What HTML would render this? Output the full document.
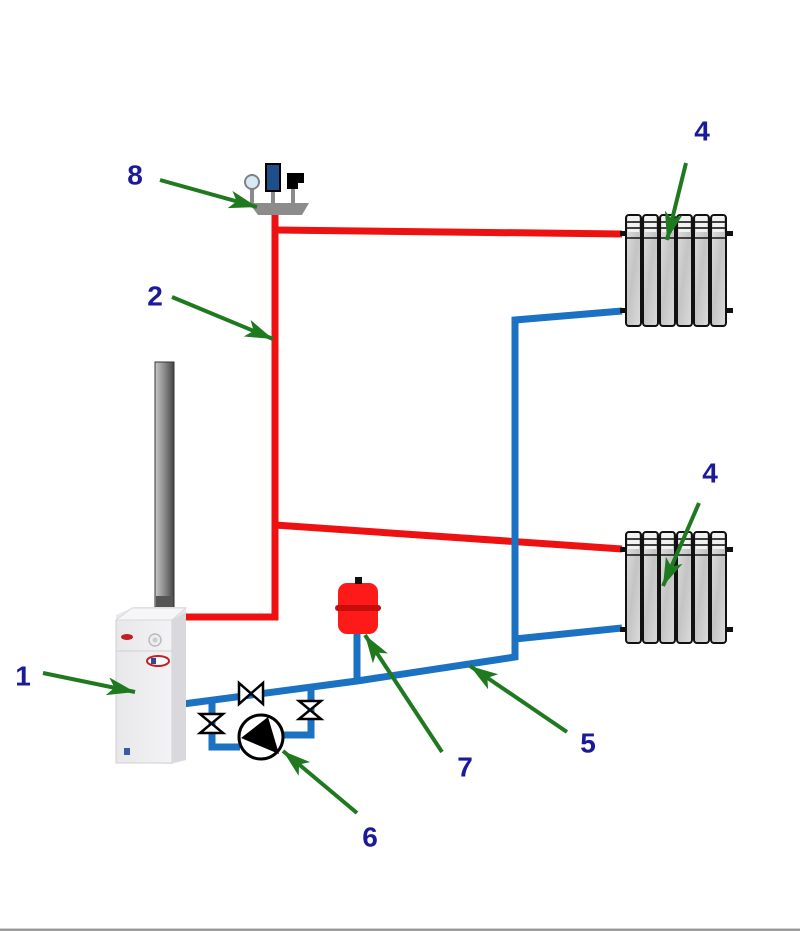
<!DOCTYPE html>
<html><head><meta charset="utf-8"><style>
html,body{margin:0;padding:0;background:#fff;}
svg{display:block;}
text{font-family:"Liberation Sans",Arial,sans-serif;font-weight:bold;font-size:28px;fill:#1a1a9a;}
</style></head><body>
<svg width="800" height="931" viewBox="0 0 800 931" xmlns="http://www.w3.org/2000/svg">
<defs>
<marker id="ah" markerUnits="userSpaceOnUse" markerWidth="30" markerHeight="20" refX="28" refY="10" orient="auto">
<path d="M0,1 L28,10 L0,19 L7,10 Z" fill="#1f7a1f"/>
</marker>
<linearGradient id="chim" x1="0" x2="1" y1="0" y2="0">
<stop offset="0" stop-color="#c8c8c8"/><stop offset="0.5" stop-color="#8a8a8a"/><stop offset="1" stop-color="#444"/>
</linearGradient>
<linearGradient id="sec" x1="0" x2="1" y1="0" y2="1">
<stop offset="0" stop-color="#e0e0e0"/><stop offset="0.5" stop-color="#c4c4c4"/><stop offset="1" stop-color="#dcdcdc"/>
</linearGradient>
<linearGradient id="front" x1="0" x2="1" y1="0" y2="0">
<stop offset="0" stop-color="#e8e8ea"/><stop offset="1" stop-color="#f3f3f5"/>
</linearGradient>
<g id="rad">
<rect x="0" y="0" width="15" height="111" rx="3" fill="url(#sec)" stroke="#111" stroke-width="2"/>
<line x1="0" y1="7" x2="15" y2="7" stroke="#111" stroke-width="1.5"/>
<line x1="0" y1="13" x2="15" y2="13" stroke="#111" stroke-width="1.5"/>
<line x1="0" y1="23" x2="15" y2="23" stroke="#111" stroke-width="1.5"/>
<rect x="2" y="1" width="11" height="5" fill="#f2f2f2"/>
<rect x="2" y="8" width="11" height="4" fill="#f2f2f2"/>
<rect x="2" y="14" width="11" height="3" fill="#f2f2f2"/>
</g>
</defs>

<rect x="0" y="928" width="800" height="1" fill="#cfcfcf"/>
<rect x="0" y="929" width="800" height="2" fill="#9a9a9a"/>

<g stroke="#ee1111" stroke-width="7" fill="none" stroke-linejoin="miter">
<polyline points="185,617 275,617 275,213"/>
<line x1="275" y1="230" x2="622" y2="234"/>
<line x1="275" y1="525" x2="622" y2="549"/>
</g>

<g stroke="#1c72c2" stroke-width="7" fill="none" stroke-linejoin="miter">
<polyline points="622,311 515,320 515,657 357,681 183,704"/>
<line x1="515" y1="639" x2="622" y2="628"/>
<line x1="357" y1="632" x2="357" y2="682"/>
<polyline points="212,701 212,747 240,747"/>
<polyline points="283,735 311,735 311,688"/>
</g>

<rect x="620" y="231" width="113" height="5" fill="#111"/>
<rect x="620" y="308" width="113" height="5" fill="#111"/>
<g transform="translate(626,215)">
<use href="#rad" x="0"/><use href="#rad" x="17"/><use href="#rad" x="34"/>
<use href="#rad" x="51"/><use href="#rad" x="68"/><use href="#rad" x="85"/>
</g>
<rect x="620" y="547" width="113" height="5" fill="#111"/>
<rect x="620" y="627" width="113" height="5" fill="#111"/>
<g transform="translate(626,532)">
<use href="#rad" x="0"/><use href="#rad" x="17"/><use href="#rad" x="34"/>
<use href="#rad" x="51"/><use href="#rad" x="68"/><use href="#rad" x="85"/>
</g>

<g>
<line x1="252" y1="188" x2="252" y2="205" stroke="#8a8a8a" stroke-width="4"/>
<line x1="273" y1="190" x2="273" y2="205" stroke="#8a8a8a" stroke-width="4"/>
<line x1="293" y1="188" x2="293" y2="205" stroke="#8a8a8a" stroke-width="4"/>
<polygon points="249,203 309,203 302,215 258,215" fill="#8c8c8c"/>
<circle cx="252" cy="182" r="7" fill="#d8e8f6" stroke="#808080" stroke-width="2"/>
<rect x="266" y="164" width="14" height="27" fill="#1e4f8a" stroke="#000" stroke-width="2"/>
<polygon points="287,173 304,173 304,183 298,183 298,189 287,189" fill="#000"/>
</g>

<rect x="338" y="583" width="40" height="51" rx="9" fill="#ff1a1a"/>
<rect x="335" y="605" width="46" height="6" rx="3" fill="#c80c0c"/>
<rect x="355" y="577" width="7" height="7" fill="#111"/>

<rect x="155" y="362" width="19" height="245" fill="url(#chim)" stroke="#333" stroke-width="1"/>
<rect x="156" y="596" width="17" height="11" fill="#555"/>

<polygon points="116,615 134,607 186,607 186,760 172,764 116,762" fill="#e9e9ec"/>
<rect x="116" y="620" width="56" height="143" fill="url(#front)" stroke="#d0d0d4" stroke-width="1"/>
<polygon points="172,620 186,612 186,760 172,763" fill="#d9d9dd"/>
<polygon points="116,620 132,608 186,608 172,620" fill="#f6f6f8" stroke="#d8d8dc" stroke-width="1"/>
<line x1="116" y1="651" x2="172" y2="651" stroke="#cfcfd3" stroke-width="1"/>
<ellipse cx="127" cy="637" rx="6" ry="3" fill="#c02020"/>
<circle cx="155" cy="640" r="6" fill="#eee" stroke="#bbb" stroke-width="1.5"/>
<circle cx="155" cy="640" r="2.5" fill="#ccc"/>
<ellipse cx="158" cy="661" rx="11" ry="5" fill="#fff" stroke="#c82020" stroke-width="2"/>
<rect x="151" y="658" width="5" height="6" fill="#2a4aa0"/>
<rect x="124" y="748" width="6" height="7" fill="#3a5aa8"/>

<circle cx="261" cy="737" r="22" fill="#fff" stroke="#000" stroke-width="3"/>
<polygon points="241,738 268,717 279,754" fill="#000"/>

<g fill="#fff" stroke="#000" stroke-width="2.5" stroke-linejoin="miter">
<path d="M239,683 L239,704 L263,683 L263,704 Z"/>
<path d="M200,714 L223,714 L200,733 L223,733 Z"/>
<path d="M299,701 L321,701 L299,719 L321,719 Z"/>
</g>

<g stroke="#1f7a1f" stroke-width="4" fill="none" marker-end="url(#ah)">
<line x1="160" y1="180" x2="257" y2="207"/>
<line x1="172" y1="297" x2="273" y2="339"/>
<line x1="686" y1="163" x2="667" y2="240"/>
<line x1="699" y1="503" x2="663" y2="586"/>
<line x1="43" y1="673" x2="135" y2="692"/>
<line x1="442" y1="752" x2="365" y2="635"/>
<line x1="567" y1="732" x2="470" y2="666"/>
<line x1="357" y1="813" x2="283" y2="751"/>
</g>

<g text-anchor="middle" dominant-baseline="central">
<text x="135" y="175">8</text>
<text x="155" y="296">2</text>
<text x="702" y="131">4</text>
<text x="710" y="473">4</text>
<text x="23" y="676">1</text>
<text x="465" y="767">7</text>
<text x="588" y="743">5</text>
<text x="370" y="837">6</text>
</g>
</svg>
</body></html>
